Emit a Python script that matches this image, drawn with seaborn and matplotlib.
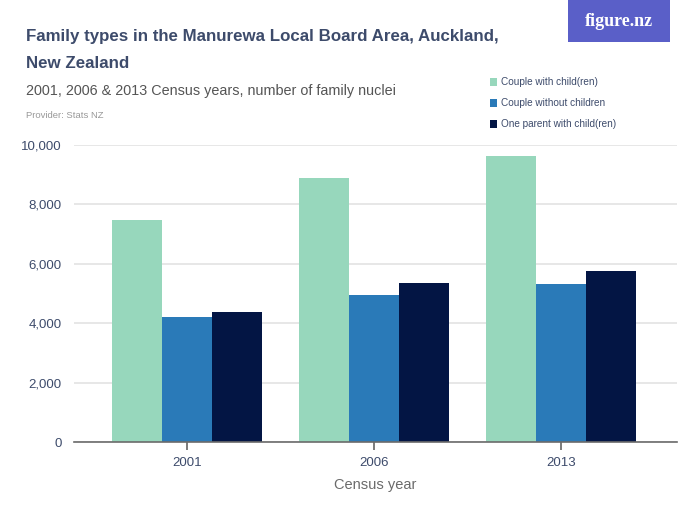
import pandas as pd
import numpy as np
import matplotlib
matplotlib.use('Agg')
import matplotlib.pyplot as plt
import seaborn as sns
from matplotlib.patches import Rectangle

# data
years = ['2001', '2006', '2013']
family_types = ['Couple with child(ren)', 'Couple without children', 'One parent with child(ren)']
couple_with_children = [7475, 8890, 9630]
couple_without_children = [4210, 4950, 5320]
one_parent = [4380, 5355, 5760]

colours = ['#97d7bc', '#2a7ab8', '#031544']
TEXT = '#3d4b6b'
GREY = '#6b6b6b'

df = pd.DataFrame({
	'year': years * 3,
	'type': [family_types[0]] * 3 + [family_types[1]] * 3 + [family_types[2]] * 3,
	'count': couple_with_children + couple_without_children + one_parent,
})

sns.set_theme(style='white')
plt.rcParams['font.family'] = ['Liberation Sans', 'DejaVu Sans']

fig = plt.figure(figsize=(7, 5.25), dpi=100)
ax = fig.add_axes([0.106, 0.158, 0.861, 0.566])

sns.barplot(data=df, x='year', y='count', hue='type', hue_order=family_types,
			palette=colours, width=0.8, saturation=1, linewidth=0, ax=ax, legend=False)

ax.set_xlim(-0.604, 2.62)
ax.set_ylim(0, 10000)
ax.set_yticks(np.arange(0, 10001, 2000))
ax.set_yticklabels([f'{v:,}' for v in range(0, 10001, 2000)])
ax.yaxis.grid(True, color='#e3e3e3', linewidth=1.2)
ax.set_axisbelow(True)
for s in ['top', 'right', 'left']:
	ax.spines[s].set_visible(False)
ax.spines['bottom'].set_color(GREY)
ax.spines['bottom'].set_linewidth(1.2)
ax.tick_params(axis='x', bottom=True, length=6, color=GREY, labelsize=9.5, labelcolor=TEXT, pad=5)
ax.tick_params(axis='y', left=False, labelsize=9.5, labelcolor=TEXT, pad=3)
ax.set_xlabel('Census year', fontsize=10.5, color=GREY, labelpad=6)
ax.set_ylabel('')

# titles
fig.text(0.037, 0.922, 'Family types in the Manurewa Local Board Area, Auckland,', fontsize=12.2,
		 color=TEXT, fontweight='bold', va='baseline')
fig.text(0.037, 0.870, 'New Zealand', fontsize=12.2, color=TEXT, fontweight='bold', va='baseline')
fig.text(0.037, 0.820, '2001, 2006 & 2013 Census years, number of family nuclei', fontsize=10.4,
		 color='#555555', va='baseline')
fig.text(0.037, 0.775, 'Provider: Stats NZ', fontsize=6.8, color='#999999', va='baseline')

# legend
for i, (lab, c) in enumerate(zip(family_types, colours)):
	y = 0.839 - i * 0.040
	fig.patches.append(Rectangle((0.700, y - 0.002), 0.010, 0.014, transform=fig.transFigure,
								 facecolor=c, edgecolor='none'))
	fig.text(0.716, y, lab, fontsize=7.2, color=TEXT, va='baseline')

# logo
fig.patches.append(Rectangle((0.811, 0.920), 0.146, 0.080, transform=fig.transFigure,
							 facecolor='#5a5fc8', edgecolor='none'))
fig.text(0.884, 0.960, 'figure.nz', fontsize=13, color='white', fontweight='bold',
		 ha='center', va='center', family=['Liberation Serif', 'DejaVu Serif'])

fig.savefig('out.png', dpi=100)
